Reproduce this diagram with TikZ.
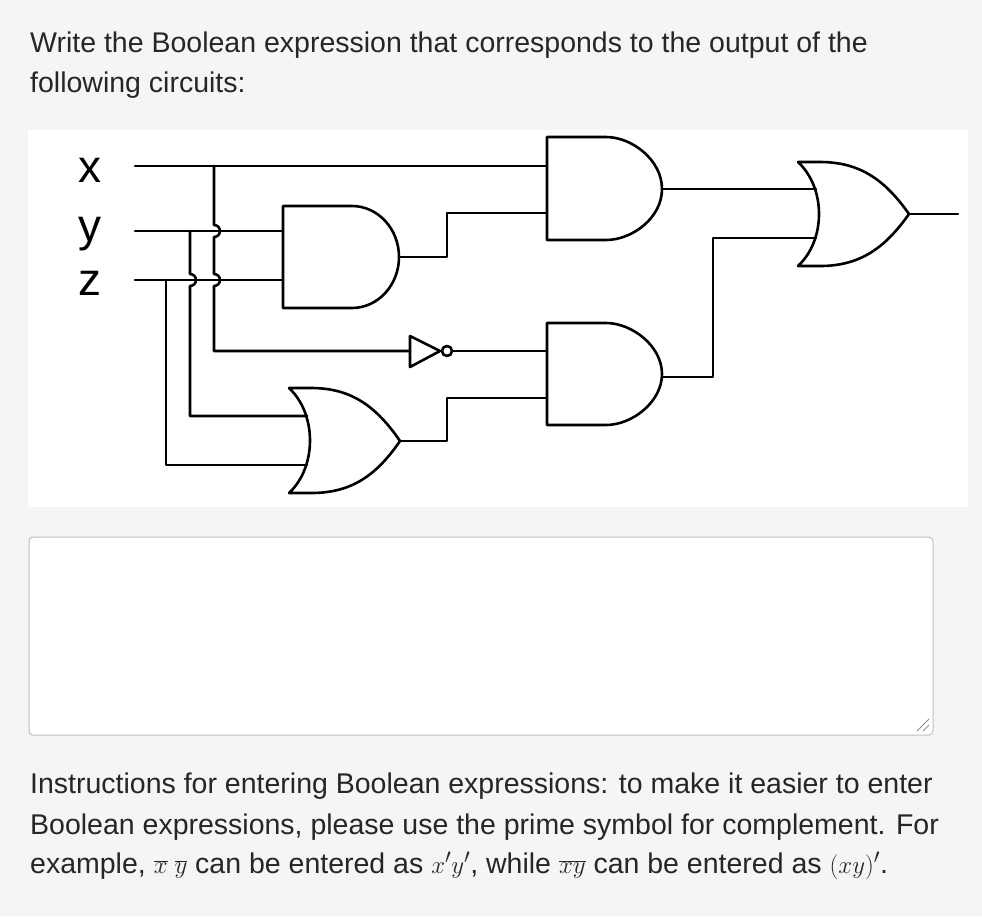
\documentclass[tikz,border=0pt]{standalone}
\usepackage{fontspec}
\setmainfont{Liberation Sans}
\begin{document}
\begin{tikzpicture}[x=1pt,y=-1pt,
  wire/.style={line width=2.6pt,line cap=round,line join=round},
  txt/.style={anchor=base west,inner sep=0pt,font=\fontsize{28.5}{32}\selectfont,text=black!85},
  lbl/.style={inner sep=0pt,font=\fontsize{46}{46}\selectfont}]
\fill[black!4] (0,0) rectangle (982,916);
\useasboundingbox (0,0) rectangle (982,916);
\fill[white] (28,130) rectangle (968,507);
\draw[black!25,line width=1pt,rounded corners=4pt,fill=white] (29,537) rectangle (933,735);
\draw[black!45,line width=0.8pt] (917,731) -- (929,719) (923,731) -- (929,725);
\node[txt] (t1) at (30,52) {Write the Boolean expression that corresponds to the output of the};
\node[txt] (t2) at (30,92) {following circuits:};
\node[txt] (b1) at (30,793) {Instructions for entering Boolean expressions: to make it easier to enter};
\node[txt] (b2) at (30,834) {Boolean expressions, please use the prime symbol for complement. For};
\node[txt] (b3) at (30,873) {example, $\overline{x}\;\overline{y}$ can be entered as $x'y'$, while $\overline{xy}$ can be entered as $(xy)'$.};
% labels
\node[lbl] (lx) at (90,170) {x};
\node[lbl] (ly) at (90,234) {y};
\node[lbl] (lz) at (90,283) {z};
% AND1
\draw[wire] (283,206) -- (352,206) .. controls (378,206) and (399,229) .. (399,257) .. controls (399,285) and (378,308) .. (352,308) -- (283,308) -- cycle;
% AND2
\draw[wire] (547,137) -- (606,137) .. controls (632,137) and (662,160) .. (662,189) .. controls (662,218) and (632,240) .. (606,240) -- (547,240) -- cycle;
% AND3
\draw[wire] (547,323) -- (606,323) .. controls (632,323) and (662,346) .. (662,374) .. controls (662,402) and (632,425) .. (606,425) -- (547,425) -- cycle;
% OR final
\draw[wire] (798,162) -- (820,162) .. controls (860,162) and (885,180) .. (909,214) .. controls (885,248) and (860,266) .. (820,266) -- (798,266) .. controls (826,240) and (826,188) .. (798,162) -- cycle;
% OR1
\draw[wire] (289,388) -- (311,388) .. controls (351,388) and (376,406) .. (400,441) .. controls (376,476) and (351,493) .. (311,493) -- (289,493) .. controls (317,467) and (317,414) .. (289,388) -- cycle;
% NOT
\draw[wire] (410,336) -- (440,351) -- (410,367) -- cycle;
\draw[wire] (447,351) circle[radius=5];
% wires
\draw[wire] (135,166) -- (547,166);
\draw[wire] (135,231) -- (283,231);
\draw[wire] (135,280) -- (283,280);
\draw[wire] (214,166) -- (214,225) arc[start angle=-90,end angle=90,radius=6] -- (214,274) arc[start angle=-90,end angle=90,radius=6] -- (214,351) -- (410,351);
\draw[wire] (190,231) -- (190,274) arc[start angle=-90,end angle=90,radius=6] -- (190,416) -- (307,416);
\draw[wire] (166,280) -- (166,465) -- (307,465);
\draw[wire] (399,257) -- (447,257) -- (447,213) -- (547,213);
\draw[wire] (452,351) -- (547,351);
\draw[wire] (400,441) -- (447,441) -- (447,398) -- (547,398);
\draw[wire] (662,189) -- (816,189);
\draw[wire] (662,377) -- (713,377) -- (713,238) -- (816,238);
\draw[wire] (909,214) -- (958,214);
\end{tikzpicture}
\end{document}
